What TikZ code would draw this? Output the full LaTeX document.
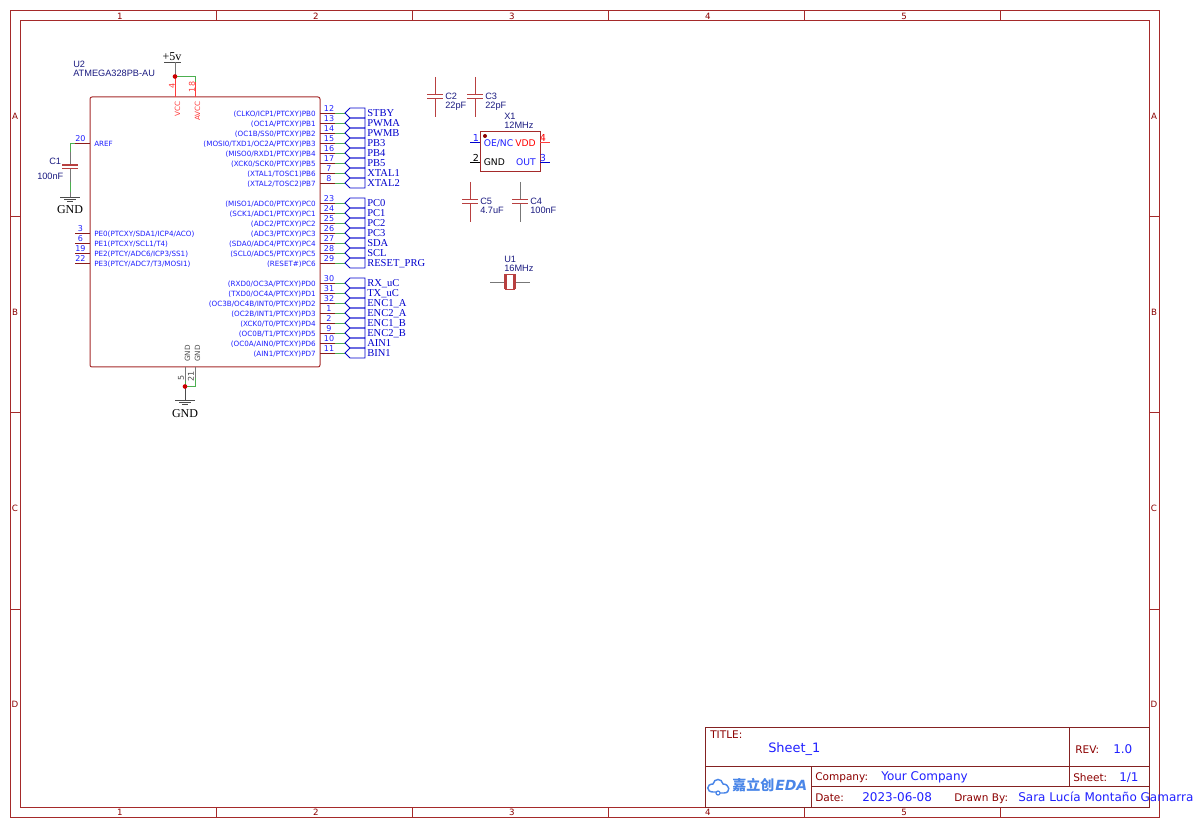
\documentclass[tikz,border=0pt]{standalone}
\usepackage{fontspec}
\setmainfont{Liberation Serif}
\newfontfamily\dejavu{DejaVu Sans}
\newfontfamily\libsans{Liberation Sans}
\newfontfamily\cjk{Noto Sans CJK SC}

\definecolor{frame}{HTML}{A52A2A}
\definecolor{titlered}{HTML}{8B0000}
\definecolor{pinblue}{HTML}{1F1FFF}
\definecolor{netblue}{HTML}{0000CC}
\definecolor{refnavy}{HTML}{1A1A80}
\definecolor{wiregreen}{HTML}{4CAF50}
\definecolor{wiregray}{HTML}{777777}
\definecolor{pinred}{HTML}{8B1A1A}
\definecolor{pwrred}{HTML}{FF3B3B}
\definecolor{capred}{HTML}{B84040}
\definecolor{logoblue}{HTML}{4A86E8}

\tikzset{
	frameline/.style={draw=frame, line width=0.75pt},
	titleline/.style={draw=frame!80!black, line width=0.75pt},
	borderlabel/.style={font=\dejavu\fontsize{6.5}{7}\selectfont, text=titlered, inner sep=0},
	titlekey/.style={font=\dejavu\fontsize{7.9}{9}\selectfont, text=titlered, inner sep=0, anchor=mid west},
	titleval/.style={font=\dejavu\fontsize{9}{10}\selectfont, text=pinblue, inner sep=0, anchor=mid west},
	pinline/.style={draw=pinred, line width=0.7pt},
	pwrline/.style={draw=pwrred, line width=0.7pt},
	wire/.style={draw=wiregreen, line width=0.7pt},
	grayline/.style={draw=wiregray, line width=0.7pt},
	capplate/.style={draw=capred, line width=0.8pt},
	portline/.style={draw=netblue, line width=0.7pt},
	pinnum/.style={font=\dejavu\fontsize{6}{7}\selectfont, text=pinblue, inner sep=0},
	pinlabel/.style={font=\dejavu\fontsize{5.4}{6}\selectfont, text=pinblue, inner sep=0},
	netname/.style={font=\fontsize{7.9}{9}\selectfont, text=netblue, inner sep=0, anchor=mid west},
	refname/.style={font=\libsans\fontsize{6.9}{7}\selectfont, text=refnavy, inner sep=0, anchor=mid west},
	symname/.style={font=\fontsize{9}{10}\selectfont, text=black, inner sep=0},
	oscnum/.style={font=\dejavu\fontsize{7.2}{8}\selectfont, inner sep=0},
	osctext/.style={font=\dejavu\fontsize{6.9}{8}\selectfont, inner sep=0},
	junction/.style={circle, fill=red!80!black, inner sep=0, minimum size=3.5pt},
}

\begin{document}
\begin{tikzpicture}[x=0.75pt,y=-0.75pt]
	\useasboundingbox (0,0) rectangle (1204,827);

	% Sheet frame
	\draw[frameline] (10,11) rectangle (1159,817);
	\draw[frameline] (20,21) rectangle (1149,807);
	\foreach \x in {216,412,608,804,1000} {
		\draw[frameline] (\x,11) -- (\x,21);
		\draw[frameline] (\x,807) -- (\x,817);
	}
	\foreach \y in {217,413,609} {
		\draw[frameline] (10,\y) -- (20,\y);
		\draw[frameline] (1149,\y) -- (1159,\y);
	}
	\foreach \x/\n in {120/1,316/2,512/3,708/4,904/5} {
		\node[borderlabel] (coltop\n) at (\x,16.5) {\n};
		\node[borderlabel] (colbot\n) at (\x,812.5) {\n};
	}
	\foreach \y/\n in {116/A,312/B,508/C,704/D} {
		\node[borderlabel] (rowleft\n) at (15,\y) {\n};
		\node[borderlabel] (rowright\n) at (1154,\y) {\n};
	}

	% Title block
	\draw[titleline] (705,727) rectangle (1149,807);
	\draw[titleline] (705,766) -- (1149,766);
	\draw[titleline] (811,786) -- (1149,786);
	\draw[titleline] (1069,727) -- (1069,786);
	\draw[titleline] (811,766) -- (811,807);
	\node[titlekey] (titlekey) at (710,735.5) {TITLE:};
	\node[titleval, font=\dejavu\fontsize{9.7}{11}\selectfont] (titleval) at (768,749) {Sheet\_1};
	\node[titlekey] (revkey) at (1075,750) {REV:};
	\node[titleval] (revval) at (1113,750) {1.0};
	\node[titlekey] (companykey) at (815,777) {Company:};
	\node[titleval] (companyval) at (881,777) {Your Company};
	\node[titlekey] (sheetkey) at (1073,778.5) {Sheet:};
	\node[titleval] (sheetval) at (1119,778.5) {1/1};
	\node[titlekey] (datekey) at (815,798.5) {Date:};
	\node[titleval] (dateval) at (862,798.5) {2023-06-08};
	\node[titlekey] (drawnkey) at (954,798.5) {Drawn By:};
	\node[titleval] (drawnval) at (1018,798.5) {Sara Lucía Montaño Gamarra};

	% Logo
	\draw[draw=logoblue, line width=1.1pt] (717,792) -- (713,792) .. controls (706,792) and (706,784) .. (713,784)
		.. controls (714,778) and (722,778) .. (723,784) .. controls (730,784) and (731,793) .. (724,793) -- (720,793);
	\draw[draw=logoblue, line width=0.9pt] (718,793) circle (2);
	\node[font=\cjk\bfseries\fontsize{10.5}{11}\selectfont, text=logoblue, inner sep=0, anchor=mid west] (logocjk) at (732,787.5) {嘉立创};
	\node[font=\dejavu\bfseries\itshape\fontsize{10.5}{11}\selectfont, text=logoblue, inner sep=0, anchor=mid west] (logoeda) at (775,787.5) {EDA};

	% U2 body
	\node[draw=frame, line width=0.75pt, rounded corners=1.5pt, minimum width=172.5pt, minimum height=202.5pt, inner sep=0] (u2) at (205,232) {};
	\node[refname] (u2ref) at (73,64) {U2};
	\node[refname] (u2val) at (73,73) {ATMEGA328PB-AU};

	% Right pins with net ports
	\foreach \y/\num/\fn/\net in {
		113/12/{(CLKO/ICP1/PTCXY)PB0}/STBY,
		123/13/{(OC1A/PTCXY)PB1}/PWMA,
		133/14/{(OC1B/SS0/PTCXY)PB2}/PWMB,
		143/15/{(MOSI0/TXD1/OC2A/PTCXY)PB3}/PB3,
		153/16/{(MISO0/RXD1/PTCXY)PB4}/PB4,
		163/17/{(XCK0/SCK0/PTCXY)PB5}/PB5,
		173/7/{(XTAL1/TOSC1)PB6}/XTAL1,
		183/8/{(XTAL2/TOSC2)PB7}/XTAL2,
		203/23/{(MISO1/ADC0/PTCXY)PC0}/PC0,
		213/24/{(SCK1/ADC1/PTCXY)PC1}/PC1,
		223/25/{(ADC2/PTCXY)PC2}/PC2,
		233/26/{(ADC3/PTCXY)PC3}/PC3,
		243/27/{(SDA0/ADC4/PTCXY)PC4}/SDA,
		253/28/{(SCL0/ADC5/PTCXY)PC5}/SCL,
		263/29/{(RESET\#)PC6}/RESET\_PRG,
		283/30/{(RXD0/OC3A/PTCXY)PD0}/RX\_uC,
		293/31/{(TXD0/OC4A/PTCXY)PD1}/TX\_uC,
		303/32/{(OC3B/OC4B/INT0/PTCXY)PD2}/ENC1\_A,
		313/1/{(OC2B/INT1/PTCXY)PD3}/ENC2\_A,
		323/2/{(XCK0/T0/PTCXY)PD4}/ENC1\_B,
		333/9/{(OC0B/T1/PTCXY)PD5}/ENC2\_B,
		343/10/{(OC0A/AIN0/PTCXY)PD6}/AIN1,
		353/11/{(AIN1/PTCXY)PD7}/BIN1%
	} {
		\coordinate (pin\num) at (320,\y);
		\coordinate (bend\num) at (335,\y);
		\coordinate (tip\num) at (345,\y);
		\draw[pinline] (pin\num) -- (bend\num);
		\draw[wire] (bend\num) -- (tip\num);
		\draw[portline] (tip\num) -- ++(5,-5) -- ++(15,0) -- ++(0,10) -- ++(-15,0) -- cycle;
		\node[pinnum] (num\num) at (329,\y-4.5) {\num};
		\node[pinlabel, anchor=mid east] (fn\num) at (316,\y) {\fn};
		\node[netname] (net\num) at (367,\y) {\net};
	}

	% Left pins
	\foreach \y/\num/\fn in {
		143/20/AREF,
		233/3/{PE0(PTCXY/SDA1/ICP4/ACO)},
		243/6/{PE1(PTCXY/SCL1/T4)},
		253/19/{PE2(PTCY/ADC6/ICP3/SS1)},
		263/22/{PE3(PTCY/ADC7/T3/MOSI1)}%
	} {
		\coordinate (pin\num) at (90,\y);
		\coordinate (end\num) at (75,\y);
		\draw[pinline] (pin\num) -- (end\num);
		\node[pinnum] (num\num) at (80.5,\y-4.5) {\num};
		\node[pinlabel, anchor=mid west] (fn\num) at (94,\y) {\fn};
	}

	% Power pins on top
	\node[symname] (vcclabel) at (172,57) {+5v};
	\coordinate (vcctop) at (175,62);
	\coordinate (vccjoin) at (175,76.5);
	\coordinate (avccjoin) at (195,76.5);
	\coordinate (vccpin) at (175,97);
	\coordinate (avccpin) at (195,97);
	\draw[draw=black!70, line width=0.7pt] (164,62) -- (181,62);
	\draw[grayline] (vcctop) -- (vccjoin);
	\draw[pwrline] (vccjoin) -- (vccpin);
	\draw[pwrline] (195,82) -- (avccpin);
	\draw[wire] (vccjoin) -- (avccjoin) -- (195,82);
	\node[junction] (vccdot) at (vccjoin) {};
	\node[pinnum, text=pwrred, rotate=90] (num4) at (172,86) {4};
	\node[pinnum, text=pwrred, rotate=90] (num18) at (192,87) {18};
	\node[pinlabel, text=pwrred, rotate=90, anchor=mid east] (vccname) at (177,101) {VCC};
	\node[pinlabel, text=pwrred, rotate=90, anchor=mid east] (avccname) at (197,101) {AVCC};

	% Ground pins at the bottom
	\coordinate (gndpina) at (185,367);
	\coordinate (gndpinb) at (195,367);
	\coordinate (gndjoin) at (185,386.5);
	\coordinate (gndjoinb) at (195,386.5);
	\coordinate (gndsym) at (185,400);
	\draw[grayline] (gndpina) -- (185,381);
	\draw[grayline] (gndpinb) -- (195,378);
	\draw[wire] (185,381) -- (gndjoin) -- (gndjoinb) -- (195,378);
	\draw[draw=black!70, line width=0.7pt] (gndjoin) -- (gndsym);
	\draw[draw=black!70, line width=0.7pt] (175,400) -- (195,400) (179,402) -- (191,402) (182,404) -- (188,404);
	\node[junction] (gnddot) at (gndjoin) {};
	\node[symname] (gndlabel) at (185,414) {GND};
	\node[pinnum, text=black!70, rotate=90] (num5) at (181,378) {5};
	\node[pinnum, text=black!70, rotate=90] (num21) at (191,376) {21};
	\node[pinlabel, text=black!70, rotate=90, anchor=mid west] (gndnamea) at (187,362) {GND};
	\node[pinlabel, text=black!70, rotate=90, anchor=mid west] (gndnameb) at (197,362) {GND};

	% C1 on AREF with its ground
	\coordinate (c1corner) at (70,143);
	\coordinate (c1top) at (70,165);
	\coordinate (c1bot) at (70,168.5);
	\coordinate (c1gnd) at (70,197);
	\draw[wire] (end20) -- (c1corner) -- (70,152);
	\draw[grayline] (70,152) -- (c1top);
	\draw[grayline] (c1bot) -- (70,182);
	\draw[wire] (70,182) -- (70,192);
	\draw[grayline] (70,192) -- (c1gnd);
	\draw[capplate] (62,165) -- (78,165);
	\draw[capplate] (62,168.5) -- (78,168.5);
	\draw[draw=black!70, line width=0.7pt] (60,197) -- (80,197) (64,199) -- (76,199) (67,201) -- (73,201);
	\node[refname] (c1ref) at (49,161) {C1};
	\node[refname] (c1val) at (37,176) {100nF};
	\node[symname] (gndlabelc1) at (70,210) {GND};

	% Loose capacitors
	\foreach \x/\ytop/\capref/\val/\col in {
		435/77/C2/22pF/capred,
		475/77/C3/22pF/capred,
		470/182/C5/4.7uF/capred,
		520/182/C4/100nF/wiregray%
	} {
		\coordinate (\capref top) at (\x,\ytop);
		\coordinate (\capref a) at (\x,\ytop+17.5);
		\coordinate (\capref b) at (\x,\ytop+21.5);
		\coordinate (\capref bot) at (\x,\ytop+40);
		\draw[draw=\col, line width=0.7pt] (\capref top) -- (\capref a);
		\draw[draw=\col, line width=0.7pt] (\capref b) -- (\capref bot);
		\draw[capplate] (\x-8,\ytop+17.5) -- (\x+8,\ytop+17.5);
		\draw[capplate] (\x-8,\ytop+21.5) -- (\x+8,\ytop+21.5);
		\node[refname] (\capref ref) at (\x+10,\ytop+19.5) {\capref};
		\node[refname] (\capref val) at (\x+10,\ytop+28.5) {\val};
	}

	% X1 oscillator
	\node[draw=frame, line width=0.75pt, minimum width=45pt, minimum height=30pt, inner sep=0] (x1) at (510,152) {};
	\node[refname] (x1ref) at (504,116) {X1};
	\node[refname] (x1val) at (504,125) {12MHz};
	\node[circle, fill=titlered, inner sep=0, minimum size=3pt] (x1dot) at (485,136) {};
	\draw[draw=netblue, line width=0.7pt] (470,142) -- (480,142);
	\draw[draw=black, line width=0.7pt] (470,162) -- (480,162);
	\draw[draw=pwrred, line width=0.7pt] (540,142) -- (550,142);
	\draw[draw=netblue, line width=0.7pt] (540,162) -- (550,162);
	\node[oscnum, text=pinblue] (x1n1) at (476,138) {1};
	\node[oscnum, text=black] (x1n2) at (476,158) {2};
	\node[oscnum, text=red] (x1n4) at (543,138) {4};
	\node[oscnum, text=pinblue] (x1n3) at (543,158) {3};
	\node[osctext, text=pinblue, anchor=mid west] (x1oe) at (483.5,143) {OE/NC};
	\node[osctext, text=black, anchor=mid west] (x1gnd) at (483.5,162.5) {GND};
	\node[osctext, text=red, anchor=mid east] (x1vdd) at (536,143) {VDD};
	\node[osctext, text=pinblue, anchor=mid east] (x1out) at (536,162.5) {OUT};

	% U1 crystal
	\node[draw=capred, line width=1pt, minimum width=6pt, minimum height=11pt, inner sep=0] (u1) at (510,282) {};
	\coordinate (u1left) at (490,282);
	\coordinate (u1right) at (530,282);
	\draw[grayline] (u1left) -- (504,282);
	\draw[grayline] (516,282) -- (u1right);
	\draw[capplate] (504.5,274.5) -- (504.5,289.5);
	\draw[capplate] (515.5,274.5) -- (515.5,289.5);
	\node[refname] (u1ref) at (504,259) {U1};
	\node[refname] (u1val) at (504,268) {16MHz};
\end{tikzpicture}
\end{document}
